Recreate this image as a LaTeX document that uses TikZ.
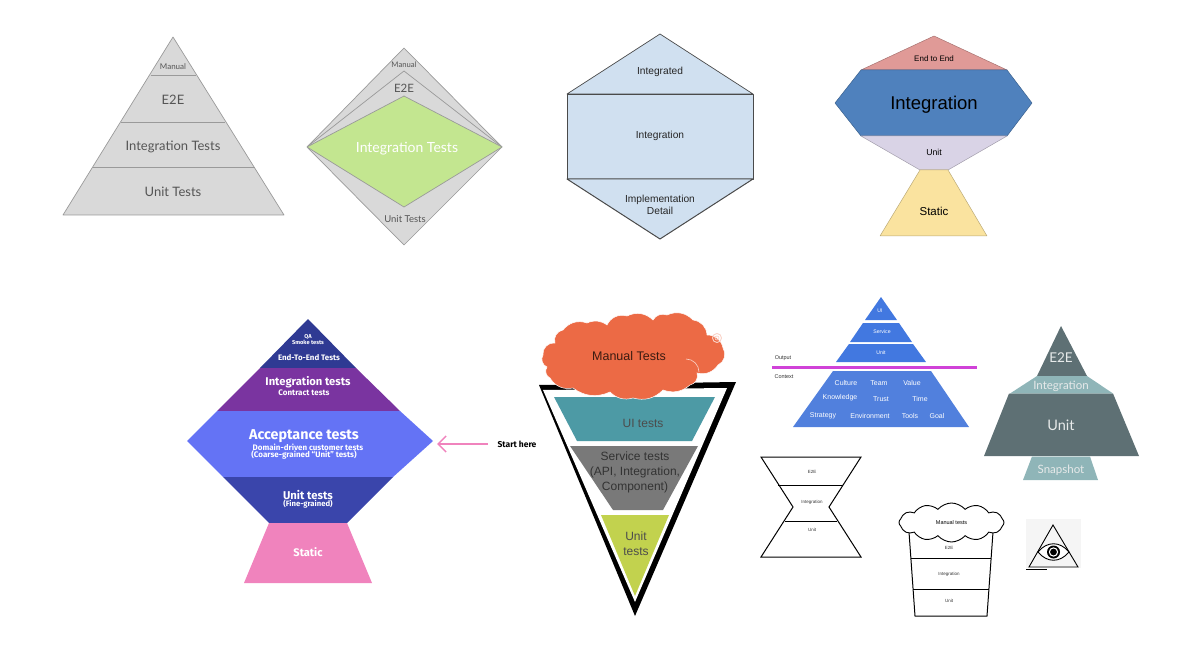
\documentclass[tikz,border=0pt]{standalone}
\usepackage{fontspec}
\setmainfont{Liberation Sans}
\newfontfamily\lightf{Lato}
\newfontfamily\slabf{Fira Sans}
\usetikzlibrary{arrows.meta,shapes.symbols}
\newcommand\fsz[2]{\fontsize{#1}{#2}\selectfont}
\definecolor{pgrey}{HTML}{D9D9D9}
\definecolor{pedge}{HTML}{9A9A9A}
\definecolor{ptext}{HTML}{555555}
\definecolor{pgreen}{HTML}{C3E690}
\definecolor{hexfill}{HTML}{D0E0F0}
\definecolor{hexedge}{HTML}{4A4A4A}
\definecolor{kred}{HTML}{E09A97}
\definecolor{kblue}{HTML}{4F81BD}
\definecolor{klilac}{HTML}{D9D3E6}
\definecolor{kyellow}{HTML}{FAE39F}
\definecolor{dnavy}{HTML}{2F3A93}
\definecolor{dpurple}{HTML}{7A34A0}
\definecolor{dperi}{HTML}{6473F5}
\definecolor{dblue}{HTML}{3A45AB}
\definecolor{dpink}{HTML}{F083BD}
\definecolor{corange}{HTML}{EC6A45}
\definecolor{cteal}{HTML}{4D9AA5}
\definecolor{cgrey}{HTML}{797979}
\definecolor{colive}{HTML}{C2D24E}
\definecolor{bblue}{HTML}{4278E0}
\definecolor{bcontext}{HTML}{5180DD}
\definecolor{bline}{HTML}{D042D8}
\definecolor{sdark}{HTML}{5E7074}
\definecolor{slight}{HTML}{8FB5B8}
\tikzset{
  lbl/.style={inner sep=0pt,align=center},
  greyshape/.style={fill=pgrey,draw=pedge,line width=0.7pt,line join=round},
  hexshape/.style={fill=hexfill,draw=hexedge,line width=0.7pt,line join=round},
  kshape/.style={draw=#1!75!black,fill=#1,line width=0.5pt,line join=round},
  outline/.style={draw=black,line width=1pt,line join=miter},
  greylbl/.style={lbl,text=ptext,font=\lightf\fsz{#1}{#1}},
  hexlbl/.style={lbl,text=black!85,font=\fsz{10.2}{12}},
  slablbl/.style={lbl,text=white,font=\slabf\bfseries\fsz{#1}{#1}},
  bluelbl/.style={lbl,text=white,font=\fsz{#1}{#1}},
  tinylbl/.style={lbl,text=black!80,font=\fsz{#1}{#1}},
  steellbl/.style={lbl,text=white!85!sdark,font=\lightf\fsz{#1}{#1}},
}
\begin{document}
\begin{tikzpicture}[x=1pt,y=-1pt]
\useasboundingbox (0,0) rectangle (1200,647);
% --- grey pyramid
\draw[greyshape] (173,37) -- (284,215) -- (63,215) -- cycle;
\draw[pedge,line width=0.8pt] (150.5,75) -- (195.5,75);
\draw[pedge,line width=0.8pt] (121,122) -- (225,122);
\draw[pedge,line width=1pt] (92.5,168) -- (254.5,168);
\node[greylbl=8] (p1) at (173,67) {Manual};
\node[greylbl=13] (p2) at (173,100) {E2E};
\node[greylbl=13] (p3) at (173,147) {Integration Tests};
\node[greylbl=13] (p4) at (173,192) {Unit Tests};
% --- grey diamond
\draw[greyshape] (404,48) -- (502,147) -- (404,245) -- (307,147) -- cycle;
\draw[greyshape] (307,147) -- (404,71) -- (502,147);
\draw[greyshape,fill=pgreen] (307,147) -- (404,96) -- (502,147) -- (404,207) -- cycle;
\node[greylbl=7.7] (d1) at (404,65) {Manual};
\node[greylbl=11.5] (d2) at (404,88) {E2E};
\node[lbl,text=white,font=\lightf\fsz{14}{14}] (d3) at (407,149) {Integration Tests};
\node[greylbl=9.5] (d4) at (405,219) {Unit Tests};
% --- hexagon
\draw[hexshape] (660,34) -- (753,94) -- (567,94) -- cycle;
\draw[hexshape] (567,94) rectangle (753,179);
\draw[hexshape,line width=1pt] (567,179) -- (753,179) -- (660,239) -- cycle;
\node[hexlbl] (h1) at (660,72) {Integrated};
\node[hexlbl] (h2) at (660,136) {Integration};
\node[hexlbl] (h3) at (660,204.5) {Implementation\\Detail};
% --- keystone
\draw[kshape=kred] (934,36) -- (1007,70) -- (861,70) -- cycle;
\draw[kshape=kblue] (861,70) -- (1007,70) -- (1032,103) -- (1007,136) -- (861,136) -- (835,103) -- cycle;
\draw[kshape=klilac] (861,136) -- (1007,136) -- (948,170) -- (920,170) -- cycle;
\draw[kshape=kyellow] (920,170) -- (948,170) -- (987,236) -- (880,236) -- cycle;
\node[lbl,font=\fsz{8}{9}] (k1) at (934,59) {End to End};
\node[lbl,font=\fsz{18.5}{20}] (k2) at (934,104.5) {Integration};
\node[lbl,font=\fsz{8.7}{10}] (k3) at (934,152) {Unit};
\node[lbl,font=\fsz{11.5}{12}] (k4) at (934,211) {Static};
% --- lower-left diamond
\fill[dnavy] (308,319) -- (356,368) -- (260,368) -- cycle;
\fill[dpurple] (260,368) -- (356,368) -- (400,411) -- (217,411) -- cycle;
\fill[dperi] (217,411) -- (400,411) -- (433,441) -- (393,477) -- (223,477) -- (187,441) -- cycle;
\fill[dblue] (223,477) -- (393,477) -- (347,523) -- (269,523) -- cycle;
\fill[dpink] (269,523) -- (347,523) -- (372,583) -- (244,583) -- cycle;
\node[slablbl=5.7] (a0) at (308,339.5) {QA\\Smoke tests};
\node[slablbl=7.9] (a1) at (309,358) {End-To-End Tests};
\node[slablbl=11.2] (a2) at (308,382.5) {Integration tests};
\node[slablbl=8] (a3) at (304,393) {Contract tests};
\node[slablbl=14.3] (a4) at (304,436) {Acceptance tests};
\node[slablbl=8] (a5) at (308,447) {Domain-driven customer tests};
\node[slablbl=8] (a6) at (304,455) {(Coarse-grained “Unit” tests)};
\node[slablbl=11.3] (a7) at (308,495.5) {Unit tests};
\node[slablbl=7.7] (a8) at (308,504) {(Fine-grained)};
\node[slablbl=11] (a9) at (308,552) {Static};
\node[lbl,font=\slabf\bfseries\fsz{8.5}{9}] (start) at (517,444) {Start here};
\coordinate (arrowfrom) at (488,444);
\coordinate (arrowto) at (437,444);
\draw[dpink,line width=1.5pt,-{Straight Barb[length=8pt,width=16pt]}] (arrowfrom) -- (arrowto);
% --- inverted funnel
\fill[black] (539,385) -- (736,382) -- (635,616) -- cycle;
\fill[white] (543,390) -- (727,388) -- (635,602) -- cycle;
\fill[cteal] (554,397) -- (715,397) -- (692,441) -- (577,441) -- cycle;
\fill[cgrey] (570,446) -- (698,446) -- (663,510) -- (613,510) -- cycle;
\fill[colive] (601,515) -- (669,515) -- (635,596) -- cycle;
\path[fill=corange,draw=white,line width=0.5pt] (543,355) to[bend left=55] (555,343) to[bend left=50] (563,330)
  to[bend left=35] (587,323) to[bend left=30] (607,325) to[bend left=40] (627,316) to[bend left=35] (653,320)
  to[bend left=40] (667,315) to[bend left=35] (693,320) to[bend left=40] (707,335) to[bend left=40] (723,348)
  to[bend left=50] (718,365) to[bend left=35] (697,373) to[bend left=50] (690,385) to[bend left=30] (663,390)
  to[bend left=30] (633,398) to[bend left=30] (610,392) to[bend left=30] (573,388) to[bend left=35] (550,378)
  to[bend left=50] (547,367) to[bend left=50] cycle;
\draw[white!70!corange,line width=0.9pt] (717,338) circle (4.5);
\draw[white!70!corange,line width=0.7pt] (717,338) circle (2);
\draw[white!70!corange,line width=0.6pt] (686,359) to[bend left=45] (699,372);
\node[lbl,text=black!75!corange,font=\fsz{12.5}{13}] (c0) at (629,356) {Manual Tests};
\node[lbl,text=black!70,font=\fsz{12}{13}] (c1) at (643,423) {UI tests};
\node[lbl,text=black!80,font=\fsz{12}{15}] (c2) at (635,472) {Service tests\\(API, Integration,\\Component)};
\node[lbl,text=black!70,font=\fsz{12}{15}] (c3) at (636,544) {Unit\\tests};
% --- blue pyramid
\fill[bblue] (881,297) -- (897,320) -- (865,320) -- cycle;
\fill[bblue] (863,323) -- (899,323) -- (912,342) -- (850,342) -- cycle;
\fill[bblue] (849,344) -- (913,344) -- (926,362) -- (836,362) -- cycle;
\fill[bline] (772,365.5) rectangle (977,368.5);
\fill[bcontext] (833,371) -- (931,371) -- (969,427) -- (793,427) -- cycle;
\node[bluelbl=5.2] (b1) at (880,311) {UI};
\node[bluelbl=5.2] (b2) at (882,332) {Service};
\node[bluelbl=5.2] (b3) at (881,353) {Unit};
\node[tinylbl=5.5] (b4) at (783,358) {Output};
\node[tinylbl=5.5] (b5) at (784,377) {Context};
\node[bluelbl=7] (b6) at (846,383) {Culture};
\node[bluelbl=7] (b7) at (879,383) {Team};
\node[bluelbl=7] (b8) at (912,383) {Value};
\node[bluelbl=7] (b9) at (840,398) {Knowledge};
\node[bluelbl=7] (b10) at (881,399) {Trust};
\node[bluelbl=7] (b11) at (920,399) {Time};
\node[bluelbl=7] (b12) at (823,416) {Strategy};
\node[bluelbl=7] (b13) at (870,416) {Environment};
\node[bluelbl=7] (b14) at (910,416) {Tools};
\node[bluelbl=7] (b15) at (937,416) {Goal};
% --- steel pyramid
\fill[sdark] (1061,326) -- (1087,376) -- (1037,376) -- cycle;
\fill[slight] (1037,376) -- (1087,376) -- (1113,393.5) -- (1010,393.5) -- cycle;
\fill[sdark] (1009,393.5) -- (1113,393.5) -- (1139,456) -- (984,456) -- cycle;
\fill[slight] (1032,456.5) -- (1090,456.5) -- (1098,480) -- (1023,480) -- cycle;
\node[steellbl=13.5] (s1) at (1061,358) {E2E};
\node[steellbl=11.5] (s2) at (1061,386) {Integration};
\node[steellbl=14.5] (s3) at (1061,425) {Unit};
\node[steellbl=11.5] (s4) at (1061,470) {Snapshot};
% --- hourglass
\draw[outline] (761,457) -- (861,457) -- (829,507) -- (861,557) -- (761,557) -- (793,507) -- cycle;
\draw[outline] (778,485) -- (843,485);
\draw[outline] (785,521) -- (837,521);
\node[tinylbl=4.5] (g1) at (812,472) {E2E};
\node[tinylbl=4.5] (g2) at (812,502) {Integration};
\node[tinylbl=4.5] (g3) at (812,530) {Unit};
% --- cup with cloud
\draw[outline] (909,532) -- (915,616) -- (987,616) -- (993,532);
\draw[outline] (911,558) -- (991,558);
\draw[outline,line width=0.8pt] (913,589) -- (989,589);
\node[tinylbl=4.5] (u1) at (949,548) {E2E};
\node[tinylbl=4.5] (u2) at (949,574) {Integration};
\node[tinylbl=4.5] (u3) at (949,601) {Unit};
\node[cloud,cloud puffs=12,cloud puff arc=100,aspect=2.7,draw=black,fill=white,line width=0.9pt,inner sep=0pt,
  minimum width=105pt,minimum height=39pt,font=\fsz{5.5}{6}] (u0) at (951.5,522.5) {Manual tests};
% --- eye
\fill[black!4] (1026,519) rectangle (1081,568);
\draw[black,line width=0.9pt,line join=miter] (1053,525) -- (1078,567) -- (1029,567) -- cycle;
\draw[black,fill=white,line width=0.9pt] (1038,552) .. controls (1047,541) and (1060,541) .. (1069,552)
  .. controls (1060,563) and (1047,563) .. (1038,552) -- cycle;
\fill[black] (1053.5,552) circle (6.5);
\fill[white] (1053.5,552) circle (4.7);
\fill[black] (1053.5,552) circle (3.4);
\draw[black,line width=0.7pt] (1026,569) -- (1047,569);
\end{tikzpicture}
\end{document}
